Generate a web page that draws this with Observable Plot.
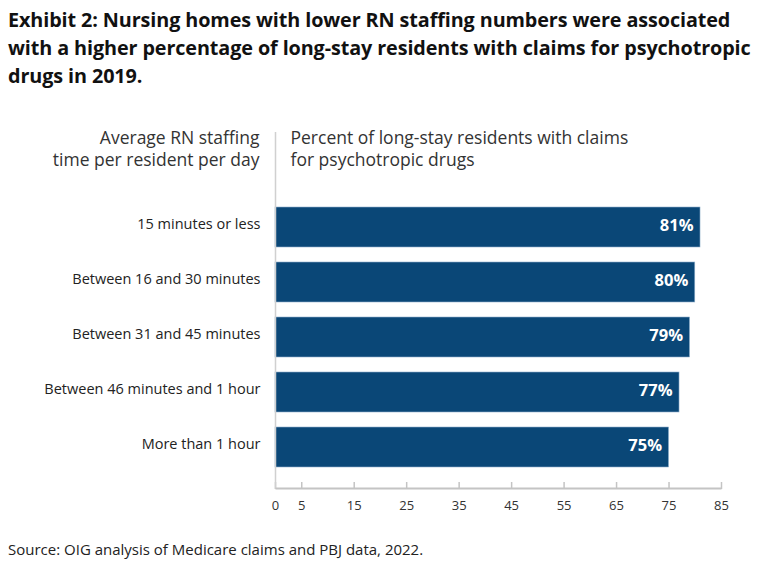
<!DOCTYPE html>
<html><head><meta charset="utf-8">
<script src="https://cdn.jsdelivr.net/npm/d3@7"></script>
<script src="https://cdn.jsdelivr.net/npm/@observablehq/plot@0.6"></script>
<style>
body{margin:0;background:#fff;font-family:"Open Sans",sans-serif;color:#222;width:776px;height:576px;position:relative;overflow:hidden}
#title{position:absolute;left:8px;top:6px;font-weight:bold;font-size:19.8px;line-height:28px;color:#111;letter-spacing:-0.1px;white-space:nowrap}
#chart{position:absolute;left:0;top:100px}
#source{position:absolute;left:8px;top:539px;font-size:15px;color:#222;white-space:nowrap}
</style></head>
<body>
<div id="title">Exhibit 2: Nursing homes with lower RN staffing numbers were associated<br>with a higher percentage of long-stay residents with claims for psychotropic<br>drugs in 2019.</div>
<div id="chart"></div>
<div id="source">Source: OIG analysis of Medicare claims and PBJ data, 2022.</div>
<script>
const categories = ["15 minutes or less","Between 16 and 30 minutes","Between 31 and 45 minutes","Between 46 minutes and 1 hour","More than 1 hour"];
const values = [81, 80, 79, 77, 75];
const valueLabels = ["81%","80%","79%","77%","75%"];
const xTicks = [0,5,15,25,35,45,55,65,75,85];
const leftHeader = "Average RN staffing\ntime per resident per day";
const rightHeader = "Percent of long-stay residents with claims\nfor psychotropic drugs";

const data = categories.map((c,i)=>({category:c, value:values[i], label:valueLabels[i]}));
const W = 776, H = 440;
const barColor = "#0a4777";
const lineColor = "#c4c4c4";

const plot = Plot.plot({
  width: W, height: H,
  marginLeft: 275, marginRight: 55, marginTop: 32, marginBottom: 51,
  style: {fontFamily: "'Open Sans', sans-serif", background: "#fff"},
  x: {domain: [0, 85], ticks: xTicks, label: null},
  y: {domain: categories, range: [91.8, 383], padding: 0.275, label: null},
  marks: [
    Plot.barX(data, {x: "value", y: "category", fill: barColor, stroke: "#8fb0cc", strokeWidth: 0.6}),
    Plot.text(data, {x: "value", y: "category", text: "label", textAnchor: "end", dx: -7, dy: -2, fill: "#fff", fontWeight: "bold", fontSize: 16.5}),
    Plot.axisY({tickSize: 0, tickPadding: 15, fontSize: 14.5, color: "#222", dy: -3}),
    Plot.axisX({ticks: xTicks, tickSize: 0, tickPadding: 11, fontSize: 13, color: "#333"}),
    Plot.axisX({ticks: xTicks, tickSize: 7, dy: -7, text: null, color: lineColor, strokeWidth: 1.5, strokeOpacity: 1}),
    Plot.ruleX([0], {stroke: "#d0d0d0", strokeWidth: 1.5}),
    Plot.link([0], {x1: 0, x2: 85, y1: () => categories[categories.length-1], y2: () => categories[categories.length-1], dy: 41, stroke: lineColor, strokeWidth: 1.8}),
    Plot.text([leftHeader], {frameAnchor: "top-left", dx: -16, dy: -5, textAnchor: "end", lineAnchor: "top", fontSize: 17.5, fill: "#333", lineHeight: 1.3}),
    Plot.text([rightHeader], {frameAnchor: "top-left", dx: 15, dy: -5, textAnchor: "start", lineAnchor: "top", fontSize: 17.5, fill: "#333", lineHeight: 1.3})
  ]
});
document.getElementById("chart").appendChild(plot);
</script>
</body></html>
